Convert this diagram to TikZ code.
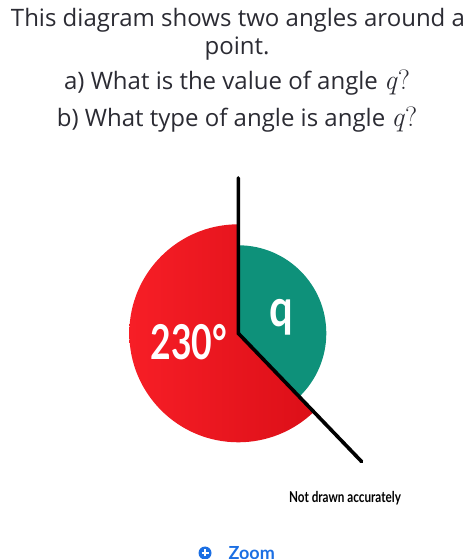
\documentclass[tikz,border=0pt]{standalone}
\usepackage{fontspec}
\setmainfont{Lato}
\newfontfamily\headfont{Open Sans}
\newfontfamily\lmfont{Latin Modern Roman}
\newcommand{\qvar}{{\lmfont\fontsize{28}{28}\selectfont\itshape q\/\upshape?}}
\definecolor{txt}{HTML}{2B2B33}
\definecolor{redL}{HTML}{F71E26}
\definecolor{redR}{HTML}{DC0F18}
\definecolor{teal}{HTML}{0E917A}
\definecolor{zoomblue}{HTML}{1C6FE3}
\tikzset{
  qtext/.style={text=txt, font=\headfont\fontsize{24}{24}\selectfont, anchor=base},
  ray/.style={line width=3.6pt, draw=black},
  lbl/.style={text=white, font=\bfseries\fontsize{48}{48}\selectfont, xscale=0.74, anchor=base},
}
\begin{document}
\begin{tikzpicture}[x=1pt,y=1pt]
\useasboundingbox (0,0) rectangle (474,559);
\clip (0,0) rectangle (474,559);
% questions
\node[qtext] (l1) at (238,532) {This diagram shows two angles around a};
\node[qtext] (l2) at (237,504) {point.};
\node[qtext] (l3) at (237,469) {a) What is the value of angle \qvar};
\node[qtext] (l4) at (237,432) {b) What type of angle is angle \qvar};
% angles
\coordinate (O) at (238.3,225.7);
\coordinate (top) at (238.3,381);
\coordinate (end) at (361.7,97.3);
\shade[left color=redL, right color=redR] (O) -- ++(90:109) arc[start angle=90, end angle=314, radius=109] -- cycle;
\fill[teal] (O) -- ++(90:88) arc[start angle=90, end angle=-46, radius=88] -- cycle;
\draw[ray, line cap=round] (top) -- (O) -- (end);
\node[lbl] (a) at (189,199) {230°};
\node[text=white, font=\bfseries\fontsize{52}{52}\selectfont, xscale=0.8, anchor=base] (q) at (281,232) {q};
\node[text=black, font=\bfseries\fontsize{15}{15}\selectfont, xscale=0.78, anchor=base] (nda) at (345,56) {Not drawn accurately};
% zoom button
\fill[zoomblue] (205,6) circle (6.5);
\draw[white, line width=1.5pt] (201.5,6) -- (208.5,6) (205,2.5) -- (205,9.5);
\node[text=zoomblue, font=\bfseries\fontsize{18}{18}\selectfont, anchor=base west] (zm) at (225,-1) {Zoom};
\end{tikzpicture}
\end{document}
